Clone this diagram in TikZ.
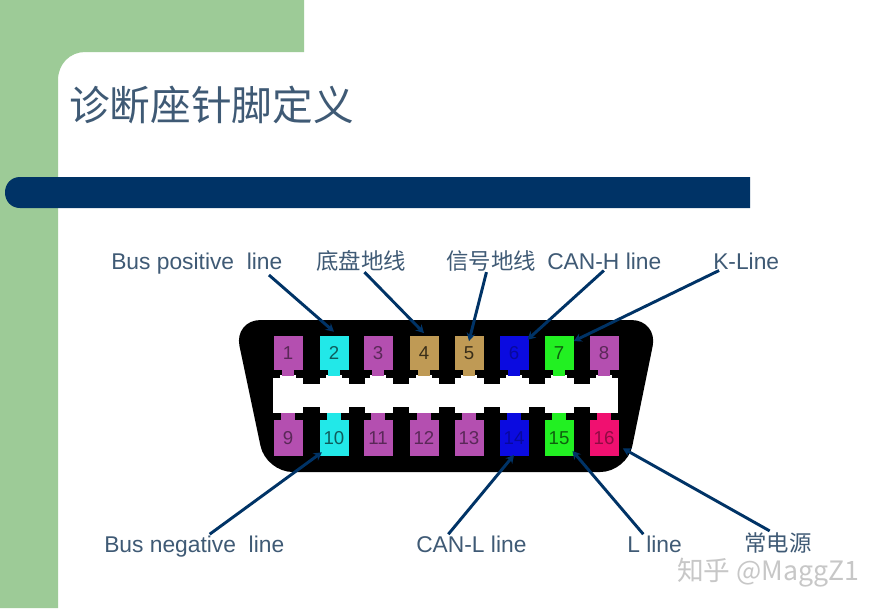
\documentclass[tikz,border=0pt]{standalone}
\usepackage{xcolor}
\usepackage{fontspec}
\setmainfont{Liberation Sans}
\newfontfamily\cjk{Noto Sans CJK SC}
\usepackage{tikz}
\usetikzlibrary{arrows.meta}
\definecolor{sidegreen}{HTML}{9DCB97}
\definecolor{barnavy}{HTML}{003366}
\definecolor{labelblue}{HTML}{3F5A75}
\definecolor{pinpurple}{HTML}{B44FB0}
\definecolor{pincyan}{HTML}{22E8E8}
\definecolor{pingold}{HTML}{BF9A55}
\definecolor{pinblue}{HTML}{0B0BE0}
\definecolor{pingreen}{HTML}{22F022}
\definecolor{pinred}{HTML}{F01070}
\tikzset{
  pintop/.style={inner sep=0pt,minimum width=21.75pt,minimum height=25.5pt,font=\fontsize{14}{14}\selectfont},
  pinbot/.style={inner sep=0pt,minimum width=21.75pt,minimum height=27pt,font=\fontsize{14}{14}\selectfont},
  lbl/.style={anchor=base west,inner sep=0.75pt,text=labelblue,font=\fontsize{17.1}{17}\selectfont},
  lblcjk/.style={anchor=base west,inner sep=0.75pt,text=labelblue,font=\fontsize{16.8}{17}\selectfont\cjk},
  wire/.style={draw=barnavy,line width=2.2pt,-{Stealth[length=6pt,width=6.5pt]}}
}
\begin{document}
\begin{tikzpicture}[x=0.75pt,y=0.75pt,yscale=-1,xscale=1]
    \useasboundingbox (0,0) rectangle (883,608);
    % background
    \fill [white] (0,0) rectangle (883,608);
    \fill [sidegreen] (0,0) -- (304,0) -- (304,52) -- (85,52) .. controls (70,52) and (58,64) .. (58,80) -- (58,608) -- (0,608) -- cycle ;
    \fill [barnavy] (20,177) -- (750,177) -- (750,208) -- (20,208) .. controls (11,208) and (5,201) .. (5,192.5) .. controls (5,184) and (11,177) .. (20,177) -- cycle ;
    \draw (69,105) node (title) [anchor=west][inner sep=0pt][text=labelblue, font=\fontsize{30.5}{31}\selectfont\cjk] {诊断座针脚定义};

    % connector body
    \fill [black, rounded corners=20pt] (234,320) -- (658,320) -- (627,472) -- (266,472) -- cycle ;
    \fill [white] (273,378) rectangle (618,413);
    \fill [white] (280,375) rectangle (296,378);
    \fill [white] (326,375) rectangle (342,378);
    \fill [white] (370,375) rectangle (386,378);
    \fill [white] (416,375) rectangle (432,378);
    \fill [white] (461,375) rectangle (477,378);
    \fill [white] (506,375) rectangle (522,378);
    \fill [white] (551,375) rectangle (567,378);
    \fill [white] (596,375) rectangle (612,378);
    % teeth
    \fill [black] (303,378) rectangle (320,384);
    \fill [black] (349,378) rectangle (365,384);
    \fill [black] (393,378) rectangle (409,384);
    \fill [black] (439,378) rectangle (455,384);
    \fill [black] (484,378) rectangle (500,384);
    \fill [black] (529,378) rectangle (545,384);
    \fill [black] (574,378) rectangle (590,384);
    \fill [black] (303,407) rectangle (320,413);
    \fill [black] (349,407) rectangle (365,413);
    \fill [black] (393,407) rectangle (409,413);
    \fill [black] (439,407) rectangle (455,413);
    \fill [black] (484,407) rectangle (500,413);
    \fill [black] (529,407) rectangle (545,413);
    \fill [black] (574,407) rectangle (590,413);

    % pin tabs
    \fill [pinpurple] (282,370) rectangle (294,376);
    \fill [pincyan] (328,370) rectangle (340,376);
    \fill [pinpurple] (372,370) rectangle (384,376);
    \fill [pingold] (418,370) rectangle (430,376);
    \fill [pingold] (463,370) rectangle (475,376);
    \fill [pinblue] (508,370) rectangle (520,376);
    \fill [pingreen] (553,370) rectangle (565,376);
    \fill [pinpurple] (598,370) rectangle (610,376);
    \fill [pinpurple] (281,413) rectangle (295,420);
    \fill [pincyan] (327,413) rectangle (341,420);
    \fill [pinpurple] (371,413) rectangle (385,420);
    \fill [pinpurple] (417,413) rectangle (431,420);
    \fill [pinpurple] (462,413) rectangle (476,420);
    \fill [pinblue] (507,413) rectangle (521,420);
    \fill [pingreen] (552,413) rectangle (566,420);
    \fill [pinred] (597,413) rectangle (611,420);

    % pins
    \draw (288,353) node (pin1) [pintop, fill=pinpurple, text=black!50!pinpurple] {1};
    \draw (334,353) node (pin2) [pintop, fill=pincyan, text=black!60!pincyan] {2};
    \draw (378,353) node (pin3) [pintop, fill=pinpurple, text=black!50!pinpurple] {3};
    \draw (424,353) node (pin4) [pintop, fill=pingold, text=black!70!pingold] {4};
    \draw (469,353) node (pin5) [pintop, fill=pingold, text=black!70!pingold] {5};
    \draw (514,353) node (pin6) [pintop, fill=pinblue, text=black!30!pinblue] {6};
    \draw (559,353) node (pin7) [pintop, fill=pingreen, text=black!60!pingreen] {7};
    \draw (604,353) node (pin8) [pintop, fill=pinpurple, text=black!50!pinpurple] {8};
    \draw (288,438) node (pin9) [pinbot, fill=pinpurple, text=black!50!pinpurple] {9};
    \draw (334,438) node (pin10) [pinbot, fill=pincyan, text=black!60!pincyan] {10};
    \draw (378,438) node (pin11) [pinbot, fill=pinpurple, text=black!50!pinpurple] {11};
    \draw (424,438) node (pin12) [pinbot, fill=pinpurple, text=black!50!pinpurple] {12};
    \draw (469,438) node (pin13) [pinbot, fill=pinpurple, text=black!50!pinpurple] {13};
    \draw (514,438) node (pin14) [pinbot, fill=pinblue, text=black!30!pinblue] {14};
    \draw (559,438) node (pin15) [pinbot, fill=pingreen, text=black!60!pingreen] {15};
    \draw (604,438) node (pin16) [pinbot, fill=pinred, text=black!40!pinred] {16};

    % labels
    \draw (110,269) node (lblbuspos) [lbl] {Bus positive\ \ line};
    \draw (315,269) node (lblchassis) [lblcjk] {底盘地线};
    \draw (445,269) node (lblsignal) [lblcjk] {信号地线};
    \draw (546,269) node (lblcanh) [lbl] {CAN-H line};
    \draw (712,269) node (lblkline) [lbl] {K-Line};
    \draw (103,552) node (lblbusneg) [lbl] {Bus negative\ \ line};
    \draw (415,552) node (lblcanl) [lbl] {CAN-L line};
    \draw (626,552) node (lbllline) [lbl] {L line};
    \draw (743,551) node (lblpower) [lblcjk] {常电源};
    \draw (677,573) node (mark) [anchor=west][inner sep=0pt][text=black!22, font=\fontsize{20}{20}\selectfont\cjk] {知乎 @MaggZ1};

    % wires
    \draw [wire] ([xshift=-11pt]lblbuspos.south east) -- ([yshift=-3pt]pin2.north);
    \draw [wire] ([xshift=-32pt]lblchassis.south east) -- ([yshift=-2pt]pin4.north);
    \draw [wire] ([xshift=-38pt]lblsignal.south east) -- ([yshift=4pt]pin5.north);
    \draw [wire] ([xshift=-44pt]lblcanh.south east) -- ([xshift=-1pt,yshift=3pt]pin6.north east);
    \draw [wire] ([xshift=-46pt]lblkline.south east) -- ([yshift=4pt]pin7.north east);
    \draw [wire] ([xshift=80pt]lblbusneg.north west) -- ([xshift=2pt,yshift=-3pt]pin10.south west);
    \draw [wire] ([xshift=25pt]lblcanl.north west) -- ([yshift=-1pt]pin14.south);
    \draw [wire] ([xshift=13pt]lbllline.north west) -- ([xshift=-1pt,yshift=-4pt]pin15.south east);
    \draw [wire] ([xshift=20pt]lblpower.north west) -- ([xshift=3pt,yshift=-6pt]pin16.south east);
\end{tikzpicture}
\end{document}
